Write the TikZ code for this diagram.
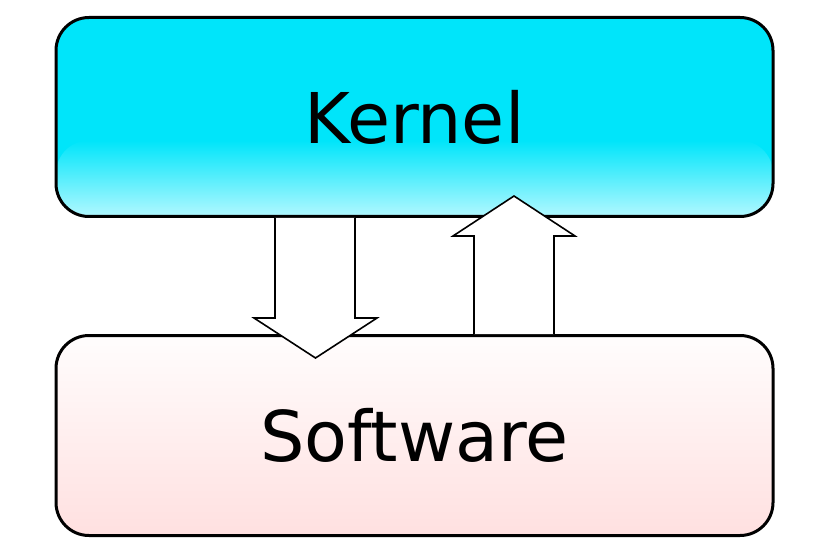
\documentclass[tikz,border=0pt]{standalone}
\usepackage{fontspec}
\newfontfamily\dejavu{DejaVu Sans}
\definecolor{ktop}{RGB}{0,229,250}
\definecolor{kbot}{RGB}{178,248,255}
\definecolor{stop}{RGB}{255,253,253}
\definecolor{sbot}{RGB}{255,224,224}
\tikzset{
  layerbox/.style={draw=black, line width=3pt, rounded corners=33pt,
    minimum width=717pt, minimum height=199pt, inner sep=0pt,
    font=\dejavu\fontsize{70}{84}\selectfont},
  flowarrow/.style={draw=black, fill=white, line width=1.6pt, line join=miter}
}
\begin{document}
\begin{tikzpicture}[x=1pt,y=-1pt]
\useasboundingbox (0,0) rectangle (829,553);
\node[layerbox, path picture={
    \fill[ktop] (path picture bounding box.north west) rectangle (path picture bounding box.south east);
    \shade[top color=ktop, bottom color=kbot] ([yshift=-123pt]path picture bounding box.north west) rectangle (path picture bounding box.south east);
  }] (kernel) at (414.5,117) {Kernel};
\node[layerbox, minimum height=200pt, path picture={
    \shade[top color=stop, bottom color=sbot] (path picture bounding box.north west) rectangle (path picture bounding box.south east);
  }] (software) at (414.5,435.5) {Software};
% down arrow
\path[flowarrow] ([xshift=-139.5pt]kernel.south) -- ++(0,100) -- ++(-21,0) -- ++(61.5,40) -- ++(61.5,-40) -- ++(-22,0) -- ++(0,-100);
% up arrow
\path[flowarrow] ([xshift=59.5pt]software.north) -- ++(0,-98) -- ++(-21,0) -- ++(61,-40) -- ++(61,40) -- ++(-21,0) -- ++(0,98);
\end{tikzpicture}
\end{document}
